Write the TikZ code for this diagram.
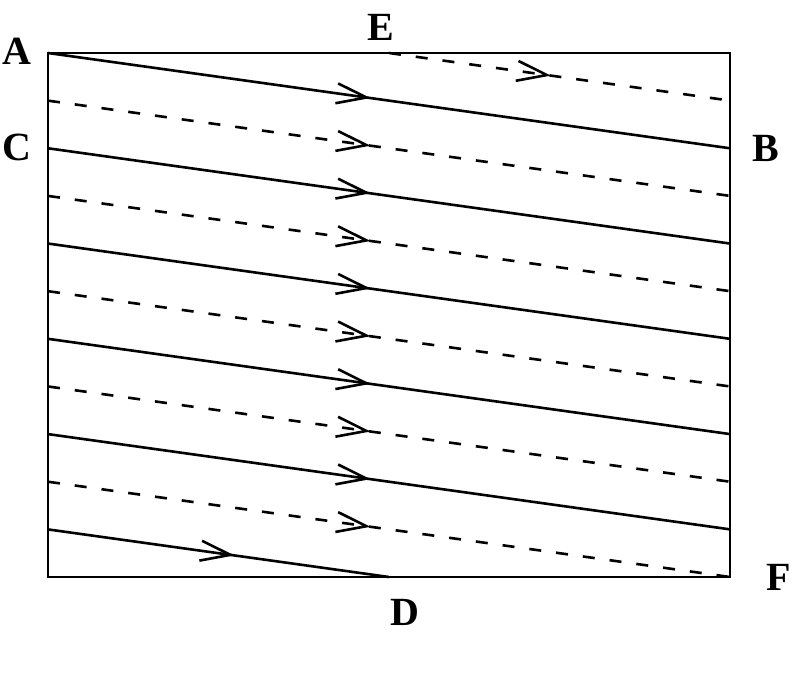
\documentclass[tikz,border=0pt]{standalone}
\usepackage{fontspec}
\setmainfont{Liberation Serif}
\usetikzlibrary{decorations.markings}
\begin{document}
\begin{tikzpicture}[x=1pt,y=-1pt,
  lbl/.style={font=\fontsize{40}{40}\selectfont\bfseries, inner sep=0pt},
  frame/.style={line width=2.4pt},
  sl/.style={line width=2.6pt},
  dl/.style={line width=2.6pt, dash pattern=on 12pt off 15pt},
  arr/.style={postaction={decorate},decoration={markings,
     mark=at position #1 with {\draw[solid,line width=2.6pt] (-30pt,10pt) -- (0pt,0pt) -- (-30pt,-10pt);}}}]
\useasboundingbox (0,0) rectangle (797,675);
% frame corners
\coordinate (TL) at (48,53);
\coordinate (TR) at (730,53);
\coordinate (BR) at (730,577);
\coordinate (BL) at (48,577);
\coordinate (Dp) at (389,577);
\coordinate (Ep) at (389,53);
\coordinate (Er) at (730,100.6);
\foreach \k in {0,...,9} {
  \pgfmathsetmacro\yl{53+\k*47.636}
  \pgfmathsetmacro\yr{53+(\k+2)*47.636}
  \coordinate (l\k) at (48,\yl);
  \coordinate (r\k) at (730,\yr);
}
\coordinate (l10) at (48,529.4);
\draw[frame] (TL) -- (TR) -- (BR) -- (BL) -- cycle;
\foreach \k in {0,2,4,6,8} \draw[sl,arr=0.467] (l\k) -- (r\k);
\foreach \k in {1,3,5,7,9} \draw[dl,arr=0.467] (l\k) -- (r\k);
\draw[sl,arr=0.535] (l10) -- (Dp);
\draw[dl,arr=0.463] (Ep) -- (Er);
% labels
\node[lbl] (A) at (17,51) {A};
\node[lbl] (C) at (17,147) {C};
\node[lbl] (B) at (766,148) {B};
\node[lbl] (E) at (381,27) {E};
\node[lbl] (D) at (405,612) {D};
\node[lbl] (F) at (779,577) {F};
\end{tikzpicture}
\end{document}
